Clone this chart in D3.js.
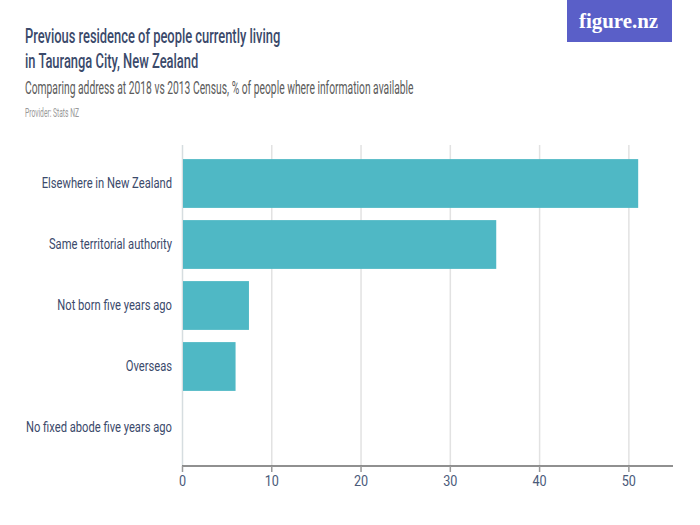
<!DOCTYPE html>
<html>
<head>
<meta charset="utf-8">
<script src="https://cdn.jsdelivr.net/npm/d3@7"></script>
<style>
  body { margin: 0; background: #fff; }
  text { font-family: "Roboto", sans-serif; }
</style>
</head>
<body>
<div id="chart"></div>
<script>
// data
var categories = ["Elsewhere in New Zealand", "Same territorial authority", "Not born five years ago", "Overseas", "No fixed abode five years ago"];
var values = [51.1, 35.2, 7.5, 6.0, 0.1];
var tickValues = [0, 10, 20, 30, 40, 50];

var W = 700, H = 525;
var svg = d3.select("#chart").append("svg")
  .attr("width", W).attr("height", H);

// squeeze text horizontally to mimic the condensed face of the original
function squeeze(sel, f) {
  sel.each(function() {
    var t = d3.select(this);
    var x0 = +t.attr("x") || 0, y0 = +t.attr("y") || 0;
    t.attr("x", null).attr("y", null)
      .attr("transform", "translate(" + x0 + "," + y0 + ") scale(" + f + ",1)");
  });
}

// header
var t1 = svg.append("text").attr("x", 25).attr("y", 43)
  .attr("fill", "#3b4a6b").style("font-size", "21px").style("font-weight", "500")
  .text("Previous residence of people currently living");
var t2 = svg.append("text").attr("x", 25).attr("y", 67.5)
  .attr("fill", "#3b4a6b").style("font-size", "21px").style("font-weight", "500")
  .text("in Tauranga City, New Zealand");
squeeze(t1, 0.615); squeeze(t2, 0.615);
var sub = svg.append("text").attr("x", 25).attr("y", 94)
  .attr("fill", "#5b5b5b").style("font-size", "18px")
  .text("Comparing address at 2018 vs 2013 Census, % of people where information available");
squeeze(sub, 0.572);
var prov = svg.append("text").attr("x", 25).attr("y", 116.5)
  .attr("fill", "#9a9a9a").style("font-size", "12px")
  .text("Provider: Stats NZ");
squeeze(prov, 0.56);

// logo
svg.append("rect").attr("x", 567).attr("y", 0).attr("width", 105).attr("height", 42)
  .attr("fill", "#5a5fc8");
var logo = svg.append("text").attr("x", 579).attr("y", 28)
  .attr("fill", "#fff").style("font-size", "22px").style("font-weight", "bold")
  .style("font-family", "'Liberation Serif', serif")
  .text("figure.nz");
squeeze(logo, 0.95);

// scales
var x = d3.scaleLinear().domain([0, 55]).range([182, 673]);
var y = d3.scaleBand().domain(categories).range([153, 458])
  .paddingInner(0.2).paddingOuter(0.1);

// gridlines
svg.append("g").selectAll("line").data(tickValues.slice(1)).enter().append("line")
  .attr("x1", d => x(d) + 0.5).attr("x2", d => x(d) + 0.5)
  .attr("y1", 145).attr("y2", 466)
  .attr("stroke", "#e2e2e2").attr("stroke-width", 1.5);

// zero line
svg.append("line").attr("x1", x(0) + 0.5).attr("x2", x(0) + 0.5)
  .attr("y1", 145).attr("y2", 466)
  .attr("stroke", "#d6dde0").attr("stroke-width", 1.5);

// bars
svg.append("g").selectAll("rect").data(categories).enter().append("rect")
  .attr("x", x(0) + 1)
  .attr("y", d => y(d))
  .attr("width", (d, i) => Math.max(0, x(values[i]) - x(0) - 1))
  .attr("height", y.bandwidth())
  .attr("fill", "#4fb8c5");

// category labels
var labels = svg.append("g").selectAll("text").data(categories).enter().append("text")
  .attr("x", 172)
  .attr("y", d => y(d) + y.bandwidth() / 2)
  .attr("dy", "0.35em")
  .attr("text-anchor", "end")
  .attr("fill", "#3b4a6b").style("font-size", "14px")
  .text(d => d);
squeeze(labels, 0.8);

// x axis
var xAxis = d3.axisBottom(x).tickValues(tickValues).tickSize(6).tickPadding(4);
var gx = svg.append("g").attr("transform", "translate(0,466)").call(xAxis);
gx.select(".domain").attr("stroke", "#6b6b6b").attr("stroke-width", 1.5)
  .attr("d", "M" + x(0) + ",0H" + x(55));
gx.selectAll(".tick line").attr("stroke", "#9a9a9a").attr("stroke-width", 1.5);
gx.selectAll(".tick text").attr("fill", "#4a5a7a").style("font-size", "14px")
  .style("font-family", "Roboto, sans-serif");
squeeze(gx.selectAll(".tick text"), 0.9);
</script>
</body>
</html>
